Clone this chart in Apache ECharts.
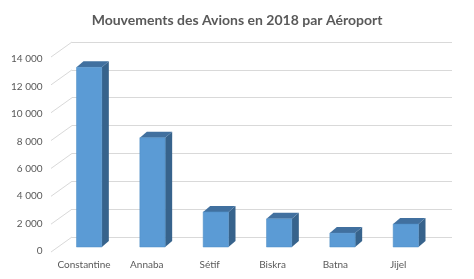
<!DOCTYPE html>
<html>
<head>
<meta charset="utf-8">
<script src="https://cdn.jsdelivr.net/npm/echarts@6/dist/echarts.min.js"></script>
<style>
  html, body { margin: 0; padding: 0; background: #fff; }
  #main { width: 474px; height: 279px; }
</style>
</head>
<body>
<div id="main"></div>
<script>
// données
var aeroports = ['Constantine', 'Annaba', 'Sétif', 'Biskra', 'Batna', 'Jijel'];
var mouvements = [12900, 7850, 2520, 2020, 1000, 1650];
var yTicks = [0, 2000, 4000, 6000, 8000, 10000, 12000, 14000];

var chart = echarts.init(document.getElementById('main'));

function fmtMilliers(v) {
    return String(v).replace(/\B(?=(\d{3})+(?!\d))/g, ' ');
}

// colonne 3D : face avant + dessus + côté
function renderBar(params, api) {
    var top = api.coord([api.value(0), api.value(1)]);
    var base = api.coord([api.value(0), 0]);
    var bw = api.size([1, 0])[0] * 0.4;
    var x0 = top[0] - 14.5 - bw / 2, x1 = x0 + bw;
    var yT = top[1] + 10, yB = base[1] + 10;
    var dx = 7, dy = -6;
    return {
        type: 'group',
        children: [
            { type: 'polygon', shape: { points: [[x1, yT], [x1 + dx, yT + dy], [x1 + dx, yB + dy], [x1, yB]] },
              style: { fill: '#37638c' } },
            { type: 'polygon', shape: { points: [[x0, yT], [x1, yT], [x1 + dx, yT + dy], [x0 + dx, yT + dy]] },
              style: { fill: '#41709f' } },
            { type: 'rect', shape: { x: x0, y: yT, width: bw, height: yB - yT },
              style: { fill: '#5b9bd5', stroke: '#4f8cc4', lineWidth: 0.5 } }
        ]
    };
}

// lignes obliques du mur gauche
function renderWall(params, api) {
    var p = api.coord([0, api.value(1)]);
    var x = params.coordSys.x;
    return {
        type: 'line',
        shape: { x1: x, y1: p[1], x2: x - 21, y2: p[1] + 15 },
        style: { stroke: '#d9d9d9', lineWidth: 1 }
    };
}

var option = {
    backgroundColor: '#fff',
    animation: false,
    title: {
        text: 'Mouvements des Avions en 2018 par Aéroport',
        left: 'center',
        top: 8,
        textStyle: { fontFamily: 'Lato', fontSize: 14, fontWeight: 'bold', color: '#595959' }
    },
    grid: [
        { left: 72, right: 22, top: 42, bottom: 42 },      // mur du fond
        { left: 52.6, right: 44.4, top: 59, bottom: 28 }   // plan avant (étiquettes)
    ],
    xAxis: [
        { type: 'category', gridIndex: 0, data: aeroports,
          axisLine: { show: false }, axisTick: { show: false }, axisLabel: { show: false } },
        { type: 'category', gridIndex: 1, data: aeroports,
          axisLine: { show: false }, axisTick: { show: false },
          axisLabel: { interval: 0, margin: 9, fontFamily: 'Lato', fontSize: 10, color: '#595959' } }
    ],
    yAxis: [
        { type: 'value', gridIndex: 0, min: 0, max: 14000, interval: 2000,
          axisLine: { show: false }, axisTick: { show: false }, axisLabel: { show: false },
          splitLine: { lineStyle: { color: '#d9d9d9', width: 1 } } },
        { type: 'value', gridIndex: 1, min: 0, max: 14000, interval: 2000,
          axisLine: { show: false }, axisTick: { show: false }, splitLine: { show: false },
          axisLabel: { margin: 10, fontFamily: 'Lato', fontSize: 10, color: '#595959', formatter: fmtMilliers } }
    ],
    series: [
        {
            type: 'custom', xAxisIndex: 0, yAxisIndex: 0,
            renderItem: renderWall,
            data: yTicks.map(function (v) { return [0, v]; }),
            silent: true
        },
        {
            type: 'custom', xAxisIndex: 0, yAxisIndex: 0,
            renderItem: renderBar,
            encode: { x: 0, y: 1 },
            data: mouvements.map(function (v, i) { return [i, v]; })
        }
    ]
};

chart.setOption(option);
</script>
</body>
</html>
